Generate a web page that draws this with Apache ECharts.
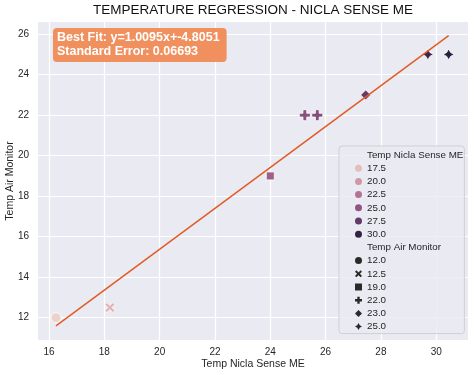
<!DOCTYPE html>
<html>
<head>
<meta charset="utf-8">
<title>Temperature regression</title>
<script src="https://cdn.jsdelivr.net/npm/echarts@6/dist/echarts.min.js"></script>
<style>
  html, body { margin: 0; padding: 0; background: #fff; }
  #main { width: 474px; height: 375px; }
</style>
</head>
<body>
<div id="main"></div>
<script>
// data
var niclaTemp = [16.25, 18.2, 24.0, 25.25, 25.7, 27.45, 29.7, 30.45];
var airTemp = [12.0, 12.5, 19.0, 22.0, 22.0, 23.0, 25.0, 25.0];
var hueLevels = ['17.5', '20.0', '22.5', '25.0', '27.5', '30.0'];
var airLevels = ['12.0', '12.5', '19.0', '22.0', '23.0', '25.0'];
var fitLine = [[16.25, 11.60], [30.45, 25.93]];
var xTickLabels = [16, 18, 20, 22, 24, 26, 28, 30];
var yTickLabels = [12, 14, 16, 18, 20, 22, 24, 26];
var fitText = ['Best Fit: y=1.0095x+-4.8051', 'Standard Error: 0.06693'];

// styles
var huePalette = ['#edd1cb', '#daa4ac', '#bd7a98', '#935685', '#613969', '#2d1e3e'];
var hueLegendColors = ['#e5bdbd', '#d197a6', '#b57394', '#8f5483', '#633a6a', '#352245'];
var airSymbols = [
	'circle',
	'path://M0,2L2,0L5,3L8,0L10,2L7,5L10,8L8,10L5,7L2,10L0,8L3,5Z',
	'path://M0,0H10V10H0Z',
	'path://M3.3,0H6.7V3.3H10V6.7H6.7V10H3.3V6.7H0V3.3H3.3Z',
	'path://M5,0L10,5L5,10L0,5Z',
	'path://M5,0L6.8,3.2L10,5L6.8,6.8L5,10L3.2,6.8L0,5L3.2,3.2Z'
];
var airSymbolSizes = [10, 10, 8, 11, 10, 11];
var fontName = '"Liberation Sans", Arial, sans-serif';
var textColor = '#262626';

var myChart = echarts.init(document.getElementById('main'), null, {renderer: 'canvas'});

var series = [];
var legendData = [];

// scatter, one series per air monitor value (marker shape)
airLevels.forEach(function (lvl, k) {
	var pts = [];
	for (var i = 0; i < niclaTemp.length; i++) {
		if (airTemp[i] === parseFloat(lvl)) pts.push([niclaTemp[i], airTemp[i]]);
	}
	series.push({
		name: 'pts ' + lvl,
		type: 'scatter',
		symbol: airSymbols[k],
		symbolSize: airSymbolSizes[k],
		itemStyle: { borderColor: '#ffffff', borderWidth: 0.8, opacity: 1 },
		z: 3,
		data: pts
	});
});

series.push({
	name: 'fit',
	type: 'line',
	data: fitLine,
	symbol: 'none',
	lineStyle: { color: '#e35b24', width: 1.5 },
	z: 4
});

// legend only series
function legendSeries(name, color, symbol) {
	series.push({ name: name, type: 'scatter', data: [], symbol: symbol, itemStyle: { color: color, opacity: 1 } });
}
legendSeries('t|Temp Nicla Sense ME', textColor, 'circle');
legendData.push({ name: 't|Temp Nicla Sense ME', icon: 'none' });
hueLevels.forEach(function (lvl, k) {
	legendSeries('h|' + lvl, hueLegendColors[k], 'circle');
	legendData.push({ name: 'h|' + lvl, icon: 'circle' });
});
legendSeries('t|Temp Air Monitor', textColor, 'circle');
legendData.push({ name: 't|Temp Air Monitor', icon: 'none' });
airLevels.forEach(function (lvl, k) {
	legendSeries('s|' + lvl, '#2a2a2a', airSymbols[k]);
	legendData.push({ name: 's|' + lvl, icon: airSymbols[k] });
});

var option = {
	animation: false,
	textStyle: { fontFamily: fontName },
	title: [{
		text: 'TEMPERATURE REGRESSION - NICLA SENSE ME',
		left: 93,
		top: 3,
		padding: 0,
		textStyle: { color: '#111111', fontSize: 13.5, fontWeight: 'normal', fontFamily: fontName }
	}, {
		text: fitText.join('\n'),
		left: 53,
		top: 28,
		padding: [3, 7, 3, 4],
		backgroundColor: '#f0905e',
		borderRadius: 4,
		textStyle: { color: '#ffffff', fontSize: 12.5, fontWeight: 'bold', lineHeight: 14, fontFamily: fontName }
	}],
	grid: {
		left: 38, right: 6, top: 22, bottom: 35,
		outerBoundsMode: 'none',
		containLabel: false,
		show: true, backgroundColor: '#eaeaf2', borderWidth: 0
	},
	visualMap: {
		type: 'continuous',
		show: false,
		dimension: 0,
		seriesIndex: [0, 1, 2, 3, 4, 5],
		min: 16.25,
		max: 30.45,
		inRange: { color: huePalette }
	},
	legend: {
		orient: 'vertical',
		left: 339,
		top: 146,
		padding: [3, 1, 1, 16],
		itemWidth: 7,
		itemHeight: 7,
		itemGap: 1.2,
		backgroundColor: 'rgba(234,234,242,0.8)',
		borderColor: '#cfcfd6',
		borderWidth: 1,
		borderRadius: 3,
		selectedMode: false,
		textStyle: { color: textColor, fontSize: 9.8, lineHeight: 12, fontFamily: fontName },
		formatter: function (name) { return name.split('|')[1]; },
		data: legendData
	},
	xAxis: {
		type: 'value',
		min: 15.6,
		max: 31.15,
		splitNumber: 8,
		name: 'Temp Nicla Sense ME',
		nameLocation: 'middle',
		nameGap: 19,
		nameMoveOverlap: false,
		nameTextStyle: { color: textColor, fontSize: 10.5 },
		axisLine: { show: false },
		axisTick: { show: false },
		axisLabel: {
			color: textColor, fontSize: 10, margin: 7,
			formatter: function (v) { return xTickLabels.indexOf(v) >= 0 ? String(v) : ''; }
		},
		splitLine: { show: true, showMinLine: false, showMaxLine: false, lineStyle: { color: '#ffffff', width: 1.2 } }
	},
	yAxis: {
		type: 'value',
		min: 10.9,
		max: 26.6,
		splitNumber: 8,
		name: 'Temp Air Monitor',
		nameLocation: 'middle',
		nameGap: 22,
		nameMoveOverlap: false,
		nameTextStyle: { color: textColor, fontSize: 10.5 },
		axisLine: { show: false },
		axisTick: { show: false },
		axisLabel: {
			color: textColor, fontSize: 10, margin: 9,
			formatter: function (v) { return yTickLabels.indexOf(v) >= 0 ? String(v) : ''; }
		},
		splitLine: { show: true, showMinLine: false, showMaxLine: false, lineStyle: { color: '#ffffff', width: 1.2 } }
	},
	series: series
};

myChart.setOption(option);
window.addEventListener('resize', function () {
	myChart.resize();
});
</script>
</body>
</html>
